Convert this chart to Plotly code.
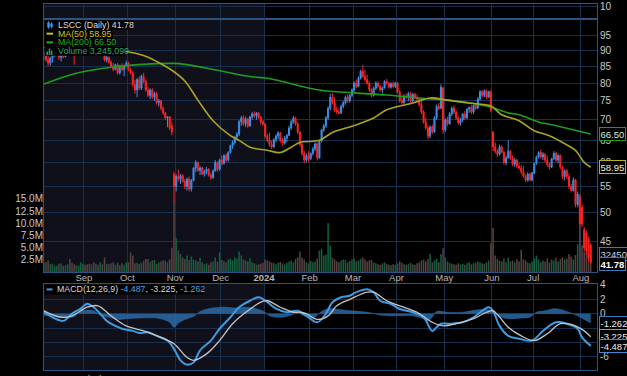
import pandas as pd
import plotly.graph_objects as go

# ---------------- data ----------------
holidays = ["2023-09-04", "2023-11-23", "2023-12-25", "2024-01-01", "2024-01-15",
            "2024-02-19", "2024-03-29", "2024-05-27", "2024-06-19", "2024-07-04"]

open_ = [
88.5, 89.5, 87, 86, 87.5, 88.5, 90.5, 91.5, 87.8, 89,
88, 90.5, 92, 91, 90, 88.6, 90.5, 92, 93.5, 94.5,
93.5, 91.5, 90, 91, 90, 91.5, 89.5, 90.5, 89, 87,
87.8, 86.2, 85, 84, 85.5, 83, 85, 84, 85.2, 86,
84, 83, 79.5, 78, 81, 78.5, 82, 80.5, 78, 76.5,
78, 76, 77, 74.5, 75, 73, 71.8, 70.5, 70.8, 68.5,
57.5, 55, 57, 56.5, 57.2, 56, 55, 56.5, 54.5, 56.2,
58.8, 60, 58.3, 58.8, 57.5, 58, 58.5, 57.3, 56.8, 58.2,
60, 58.5, 60.5, 59.8, 61.5, 60.5, 62.2, 63.8, 64.5, 65.8,
66.5, 69.5, 70.5, 69, 70.2, 68.5, 70.8, 71.5, 71, 71.8,
70.6, 69.5, 69, 66, 65, 64, 63.5, 65.2, 66, 66.8,
65, 64.3, 65.5, 66.2, 68, 69.5, 70.5, 69, 67, 64,
62, 60.5, 61.5, 60.8, 62, 63, 64.2, 61, 64.8, 67.5,
68.5, 70.5, 73, 76, 74.5, 72.5, 72, 71.8, 73.5, 74.5,
76, 75, 76.5, 78, 80, 79, 81.5, 83.5, 82, 81,
80, 78, 76.5, 78.5, 80, 79, 78, 78.6, 80.5, 80,
78.8, 79.8, 79, 80, 77.5, 75, 74.5, 76.3, 76, 77,
75, 76.8, 76, 75.5, 74, 72, 69.5, 68, 66, 68.2,
67, 70.5, 73.5, 73, 78.5, 67.5, 70, 69, 71.5, 73,
72, 70.5, 69.2, 70, 71.5, 70.5, 72.8, 73.2, 72, 73.8,
73, 75.5, 77.5, 76.5, 77.8, 76, 77.5, 67, 63.5, 62.5,
61.8, 63.5, 62.3, 60, 61, 62.5, 61, 59.6, 60.5, 59.2,
58.8, 58, 57, 56.3, 57.5, 56.3, 57.8, 59.8, 61.2, 62.2,
61.2, 61.8, 60.5, 59.5, 59, 60.8, 62, 60.5, 61.5, 59,
57, 58.2, 57, 55, 54.2, 56.3, 51.5, 53, 51, 47,
46.5, 45.5, 44.5]

high = [
90, 90.5, 88.5, 88, 89, 91, 92, 92, 89.5, 90.5,
91, 92.5, 93, 91.5, 90.5, 91, 92.5, 94, 95, 96,
94, 92.5, 91.5, 92, 92, 92, 91, 91, 89.2, 88.5,
88, 87, 86, 85.8, 86, 85.5, 86, 85.5, 86.8, 86.5,
84.5, 83.5, 81, 81.5, 82, 82.5, 83, 81, 79, 78.5,
78.5, 77.5, 77.5, 75.5, 75.2, 73.5, 72, 71, 71, 69.5,
58, 57.5, 58.5, 57.5, 57.5, 56.5, 56.8, 57, 56.5, 59,
60.5, 60.2, 59.2, 59, 58.5, 59, 58.8, 57.8, 58.5, 60.5,
60.2, 60.8, 61.5, 61.8, 62, 62.5, 64, 65, 66, 67,
70, 71, 71.2, 70.8, 70.5, 71, 72, 72.2, 72, 72,
71, 70, 69.2, 66.5, 66.8, 65, 65.5, 66.5, 67.2, 67,
65.5, 66, 66.5, 68.5, 70, 71, 70.8, 69.5, 67.2, 64.5,
62.5, 62, 62.5, 62.2, 63.5, 64.5, 64.5, 65, 67.8, 69,
71, 73.5, 77, 77.2, 76, 73.5, 73, 74, 75, 76.5,
76.8, 77, 78.5, 80.5, 81, 82, 84, 85.5, 84, 82.5,
80.5, 78.5, 79, 80.5, 80.5, 79.5, 79, 80.8, 81.2, 80.3,
80.2, 80.5, 80.3, 80.2, 78, 76.5, 76.8, 77, 77.5, 77.5,
77.2, 77.2, 76.8, 76, 75.8, 72.5, 70.6, 68.5, 68.6, 68.8,
71, 74, 74.5, 79.6, 79, 70.5, 70.8, 72, 73.5, 73.8,
72.5, 71, 70.5, 71.8, 72.3, 73, 73.5, 74, 74, 74.2,
76, 78, 78, 78.2, 78.2, 77.8, 78, 67.2, 64.5, 63,
64, 63.8, 62.5, 61.5, 65, 62.8, 61.5, 61, 60.8, 60,
59.5, 59.2, 57.5, 57.9, 57.8, 58, 60, 61.5, 62.5, 62.8,
62.3, 62, 61.5, 60, 61, 62.5, 62.3, 62, 61.8, 59.2,
58.5, 58.6, 57.7, 55.5, 56.8, 56.5, 54, 53.5, 51.5, 47.5,
46.9, 45.8, 44.8]

low = [
87, 86.5, 85, 85.2, 86.2, 88, 89.5, 87, 86.5, 87.5,
87.8, 90, 90.5, 88.5, 85.5, 88.5, 90, 91.5, 92.5, 93,
91, 89.5, 89, 89.5, 89.8, 89, 89, 88.6, 86.5, 86.2,
85.8, 84.5, 83.5, 83.8, 82.5, 82.5, 83.5, 82, 84.8, 83.5,
82.5, 79, 77, 76, 78, 78, 80, 77.5, 76, 75.5,
75.5, 75, 74, 73.5, 72.5, 71.3, 70, 68.2, 67.5, 66.2,
52, 54, 56, 55.5, 55.8, 54.5, 54.2, 54, 54, 56,
58, 58, 57.3, 57.3, 57, 57.5, 57, 56.3, 56.5, 58,
58, 58.2, 59.3, 59.5, 60, 60.2, 62, 63, 64, 65,
66, 68.5, 68.5, 68.2, 68, 68.3, 70, 70.5, 70, 70.3,
68.8, 68.5, 65.5, 64.5, 63.5, 63, 63.2, 64.5, 65.3, 64.5,
63.8, 64, 64.5, 66, 67.5, 69, 68.5, 66.5, 63.5, 61.5,
59.8, 60, 60.2, 60.5, 61.5, 62.5, 60.4, 60.8, 64.5, 67,
68, 70, 72.5, 74, 72, 71.5, 71.3, 71.5, 73, 74,
74.5, 74.5, 76, 77.5, 78.5, 78.8, 81, 81.5, 80.5, 79.5,
77.5, 76, 76.2, 78, 78.5, 77.5, 77, 78.4, 79.5, 78.5,
78.4, 78.5, 78.6, 77, 74.5, 74, 74.2, 75.5, 75, 74.5,
74.6, 75.5, 75, 73.5, 71.5, 69, 67.5, 65.3, 65.5, 66.5,
66.8, 70, 72.5, 72.8, 66.5, 67, 68.5, 68.8, 71, 71.5,
70, 68.8, 68.6, 69.5, 70, 70.2, 71.8, 71.5, 71.5, 72.5,
72.8, 75, 76, 76, 75.5, 75.8, 72, 62.5, 62, 61.2,
61.5, 62, 59.5, 59.4, 60.8, 60.5, 59.2, 59, 58.8, 58.5,
57.5, 56.8, 55.9, 55.9, 56, 56, 57.5, 59.5, 60.8, 60.8,
60.5, 60, 59, 58.5, 58.8, 60.5, 60, 59.8, 58.5, 56.5,
56.2, 56.5, 54.5, 53.8, 54, 51, 51, 47, 47.5, 43.5,
43, 42, 41.5]

close = [
89.5, 87, 86, 87.5, 88.5, 90.5, 91.5, 87.8, 89, 88,
90.5, 92, 91, 90, 88.6, 90.5, 92, 93.5, 94, 93.5,
91.5, 90, 91, 90, 91.5, 89.5, 90.5, 89, 87, 87.8,
86.2, 85, 84, 85.5, 83, 85, 84, 85.2, 86, 84,
83, 79.5, 78, 81, 78.5, 82, 80.5, 78, 76.5, 78,
76, 77, 74.5, 75, 73, 71.8, 70.5, 70.8, 68, 67,
55, 57, 56.5, 57.2, 56, 55, 56.5, 54.5, 56.2, 58.8,
60, 58.3, 58.8, 57.5, 58, 58.5, 57.3, 56.8, 58.2, 60,
58.5, 60.5, 59.8, 61.5, 60.5, 62.2, 63.8, 64.5, 65.8, 66.5,
69.5, 70.5, 69, 70.2, 68.5, 70.8, 71.5, 71, 71.8, 70.6,
69.5, 69, 66, 65, 64, 63.5, 65.2, 66, 66.8, 65,
64.3, 65.5, 66.2, 68, 69.5, 70.5, 69, 67, 64, 62,
60.5, 61.5, 60.8, 62, 63, 64.2, 61, 64.8, 67.5, 68.5,
70.5, 73, 76, 74.5, 72.5, 72, 71.8, 73.5, 74.5, 76,
75, 76.5, 78, 80, 79, 81.5, 83.5, 82, 81, 80,
78, 76.5, 78.5, 80, 79, 78, 78.6, 80.5, 80, 78.8,
79.8, 79, 80, 77.5, 75, 74.5, 76.3, 76, 77, 75,
76.8, 76, 75.5, 74, 72, 69.5, 68, 66, 68.2, 67,
70.5, 73.5, 73, 78.8, 67.5, 70, 69, 71.5, 73, 72,
70.5, 69.2, 70, 71.5, 70.5, 72.8, 73.2, 72, 73.8, 73,
75.5, 77.5, 76.5, 77.8, 76, 77.5, 72.5, 63.5, 62.5, 61.8,
63.5, 62.3, 60, 61, 62.5, 61, 59.6, 60.5, 59.2, 58.8,
58, 57, 56.3, 57.5, 56.3, 57.8, 59.8, 61.2, 62.2, 61.2,
61.8, 60.5, 59.5, 59, 60.8, 62, 60.5, 61.5, 59, 57,
58.2, 57, 55, 54.2, 56.3, 51.5, 53.5, 48, 48, 44,
43.5, 42.5, 41.78]

volume_m = [
1.9, 2.0, 2.4, 1.6, 1.7, 1.2, 1.3, 1.7, 1.8, 1.3,
1.4, 1.6, 2.7, 1.9, 1.6, 1.4, 1.3, 2.0, 1.7, 1.5,
1.6, 1.7, 1.6, 2.0, 1.7, 1.5, 2.0, 1.6, 3.0, 1.7,
1.6, 1.8, 2.0, 1.5, 1.9, 1.4, 1.8, 1.5, 2.0, 2.0,
4.0, 3.4, 1.8, 1.9, 1.7, 1.9, 2.3, 2.7, 2.7, 2.0,
2.4, 2.5, 1.7, 2.0, 2.2, 2.4, 2.3, 2.0, 2.6, 5.0,
14.5, 7.0, 4.4, 3.7, 3.0, 2.7, 3.4, 2.5, 3.2, 2.6,
2.4, 2.2, 2.9, 2.0, 1.6, 1.8, 1.5, 2.0, 2.2, 3.0,
2.1, 4.0, 2.5, 2.3, 2.0, 2.6, 2.8, 2.4, 3.0, 2.8,
4.2, 3.4, 2.6, 2.4, 2.2, 2.9, 2.0, 1.8, 1.5, 1.6,
1.7, 1.9, 2.6, 2.4, 2.2, 2.0, 1.8, 1.6, 1.9, 2.1,
1.8, 1.6, 1.9, 2.2, 2.4, 2.0, 2.7, 3.0, 4.2, 3.0,
2.6, 2.0, 1.8, 2.3, 2.0, 2.2, 2.8, 4.4, 4.8, 3.4,
3.6, 10.0, 5.4, 3.0, 2.6, 2.2, 2.0, 2.4, 2.6, 2.5,
2.0, 2.3, 2.6, 2.8, 2.2, 2.4, 2.7, 3.0, 2.6, 2.2,
2.4, 2.5, 2.0, 1.8, 1.6, 1.5, 1.8, 2.0, 1.7, 1.5,
1.4, 1.6, 1.5, 1.8, 2.2, 1.9, 1.6, 1.5, 1.7, 1.9,
1.6, 1.5, 1.8, 2.0, 2.4, 2.6, 2.2, 2.7, 3.7, 2.0,
2.4, 2.7, 2.0, 3.7, 4.9, 3.0, 2.2, 1.9, 1.7, 1.6,
1.5, 1.8, 1.6, 1.7, 1.5, 1.8, 2.0, 1.6, 1.8, 1.9,
2.2, 2.0, 1.8, 1.7, 2.0, 2.4, 5.9, 9.1, 3.4, 2.7,
2.4, 2.2, 2.8, 2.0, 3.0, 2.2, 2.4, 2.0, 2.6, 2.2,
4.6, 2.6, 2.4, 2.0, 1.8, 2.2, 2.8, 3.4, 2.6, 2.0,
2.4, 2.2, 2.8, 2.0, 2.6, 2.4, 2.9, 2.2, 2.7, 3.0,
2.6, 2.8, 3.7, 3.2, 2.6, 3.5, 5.7, 8.7, 5.5, 4.2,
4.0, 3.4, 3.24509]

# moving averages (session number, value)
ma50_idx = [0, 19, 38, 46, 52, 59, 65, 71, 78, 86, 90, 95, 103, 109, 114, 118, 127, 133, 143, 152,
            158, 170, 178, 186, 196, 206, 211, 219, 226, 233, 239, 245, 249, 252]
ma50_val = [91.0, 90.6, 89.7, 88.4, 86.5, 83.8, 80.6, 75.2, 69.8, 66.1, 65.0, 63.4, 62.7, 62.2, 63.4,
            64.5, 65.0, 66.9, 68.6, 70.5, 72.6, 74.4, 75.8, 75.2, 74.4, 73.6, 71.3, 69.8, 67.3, 66.1,
            64.5, 62.7, 60.0, 58.95]
ma200_idx = [0, 15, 31, 46, 60, 65, 80, 94, 103, 109, 127, 143, 158, 173, 189, 204, 214, 219, 229, 234, 252]
ma200_val = [79.7, 82.9, 84.7, 85.6, 85.9, 85.6, 83.8, 82.0, 81.4, 80.6, 78.0, 77.2, 76.6, 75.8, 75.0,
             73.6, 71.8, 71.3, 69.3, 68.8, 66.5]

# MACD(12,26,9)
macd_idx = [0, 4, 9, 13, 17, 20, 23, 26, 29, 33, 36, 41, 44, 48, 52, 57, 60, 63, 66, 69,
            72, 77, 81, 86, 90, 95, 99, 103, 107, 112, 117, 121, 126, 130, 133, 137, 141, 144, 149, 152,
            155, 160, 164, 170, 175, 179, 181, 183, 187, 193, 198, 202, 205, 207, 210, 214, 219, 225, 230, 236,
            241, 246, 248, 252]
macd_val = [0.2, -0.5, -1.0, 0.0, 0.7, 1.4, 0.9, 0.0, -1.0, -1.7, -2.1, -2.4, -2.7, -2.6, -3.1, -3.75, -4.9,
            -6.5, -7.1, -6.8, -5.1, -3.75, -2.1, -0.5, 0.9, 1.8, 2.3, 1.6, 0.7, 0.2, 0.4, -0.3, -1.2, 0.0,
            1.6, 2.3, 2.5, 3.0, 3.4, 3.0, 1.8, 1.35, 0.65, 0.2, -0.5, -2.4, -1.9, -1.4, -1.4, -1.2, -0.5,
            0.4, 0.9, 0.4, -1.7, -3.1, -3.5, -3.75, -2.4, -1.2, -1.4, -2.1, -3.3, -4.487]
sig_idx = [0, 8, 13, 20, 25, 31, 38, 46, 54, 60, 66, 69, 75, 81, 87, 94, 100, 103, 109, 115,
           118, 121, 126, 131, 135, 141, 149, 152, 158, 164, 172, 179, 184, 190, 198, 204, 207, 214, 220, 226,
           232, 238, 243, 249, 252]
sig_val = [0.4, -0.5, -0.3, 0.9, 1.1, -0.3, -1.7, -2.4, -3.3, -4.2, -6.1, -6.5, -5.6, -3.75, -1.4, 0.4,
           1.6, 1.8, 0.9, 0.2, 0.2, 0.0, -0.8, -0.3, 1.1, 2.0, 3.0, 3.0, 1.8, 1.1, 0.2, -1.2, -1.7, -1.4,
           -0.7, 0.2, 0.4, -1.9, -3.1, -3.75, -2.8, -1.4, -1.5, -2.4, -3.225]
hist_idx = [0, 5, 10, 14, 17, 20, 23, 26, 30, 34, 38, 45, 52, 56, 58, 60, 62, 65, 69, 72,
            76, 82, 88, 94, 99, 102, 104, 110, 114, 117, 120, 124, 128, 131, 136, 141, 146, 151, 155, 162,
            170, 174, 177, 179, 181, 186, 193, 199, 204, 207, 210, 214, 220, 224, 227, 231, 235, 238, 242, 246,
            249, 252]
hist_val = [-0.2, -0.3, -0.6, -0.4, 0.3, 0.5, 0.4, -0.2, -0.5, -0.8, -0.7, -0.6, -0.6, -0.9, -1.2, -1.9,
            -1.3, -0.8, -0.4, 0.3, 0.7, 0.9, 0.8, 0.9, 0.6, 0.2, -0.3, -0.5, -0.2, 0.1, -0.3, -0.6, 0.3,
            0.7, 0.6, 0.4, 0.3, 0.1, -0.2, -0.3, -0.3, -0.6, -1.0, -0.5, 0.3, 0.2, 0.2, 0.5, 0.6, 0.3,
            -0.4, -0.7, -0.6, -0.5, 0.2, 0.4, 0.7, 0.6, 0.2, -0.3, -0.8, -1.262]

price_ticks = [45, 50, 55, 60, 65, 70, 75, 80, 85, 90, 95]
vol_ticks_m = [2.5, 5.0, 7.5, 10.0, 12.5, 15.0]
macd_ticks = [-6, -4, -2, 0, 2, 4]

# ---------------- build ----------------
N = len(close)
dates = pd.bdate_range("2023-08-07", "2024-08-20", freq="C", holidays=holidays)[:N]
idx = list(range(N))

month_pos, month_txt = [], []
for i in range(1, N):
    if dates[i].month != dates[i - 1].month:
        month_pos.append(i - 0.5)
        month_txt.append("<b>2024</b>" if dates[i].month == 1 else dates[i].strftime("%b"))
jan_pos = [p for p, t in zip(month_pos, month_txt) if "2024" in t][0]

W, H = 627, 376
ML, MR = 44, 30
def px(x):
    return (x - ML) / (W - ML - MR)
def py(y):
    return 1 - y / H

GRID = "#16304e"
BORDER = "#2a5583"
UP, DOWN = "#3b8fe6", "#ff2222"
XR = [0.1, 254.9]
FONT = "Liberation Sans"

vol_colors = ["#125e3e" if c >= o else "#574040" for o, c in zip(open_, close)]

fig = go.Figure()
fig.add_trace(go.Bar(x=idx, y=[v * 1e6 for v in volume_m], marker=dict(color=vol_colors, line_width=0),
                     width=0.72, xaxis="x", yaxis="y", hoverinfo="skip"))
fig.add_trace(go.Candlestick(x=idx, open=open_, high=high, low=low, close=close,
                             increasing=dict(line=dict(color=UP, width=1), fillcolor=UP),
                             decreasing=dict(line=dict(color=DOWN, width=1), fillcolor=DOWN),
                             whiskerwidth=0, xaxis="x", yaxis="y2", hoverinfo="skip"))
fig.add_trace(go.Scatter(x=ma200_idx, y=ma200_val, mode="lines", line=dict(color="#1f9c1f", width=1.6, shape="spline"),
                         xaxis="x", yaxis="y2", hoverinfo="skip"))
fig.add_trace(go.Scatter(x=ma50_idx, y=ma50_val, mode="lines", line=dict(color="#aaa322", width=1.6, shape="spline"),
                         xaxis="x", yaxis="y2", hoverinfo="skip"))
fig.add_trace(go.Scatter(x=hist_idx, y=hist_val, mode="lines", fill="tozeroy",
                         line=dict(color="#2c6fae", width=0.5, shape="spline"),
                         fillcolor="rgba(44,111,174,0.8)", xaxis="x2", yaxis="y3", hoverinfo="skip"))
fig.add_trace(go.Scatter(x=macd_idx, y=macd_val, mode="lines", line=dict(color="#3d9be2", width=2, shape="spline"),
                         xaxis="x2", yaxis="y3", hoverinfo="skip"))
fig.add_trace(go.Scatter(x=sig_idx, y=sig_val, mode="lines", line=dict(color="#c4c4c4", width=1.3, shape="spline"),
                         xaxis="x2", yaxis="y3", hoverinfo="skip"))
fig.add_trace(go.Scatter(x=[10], y=[0.5], mode="markers", marker=dict(opacity=0),
                         xaxis="x3", yaxis="y4", hoverinfo="skip"))

xcommon = dict(range=XR, tickvals=month_pos, showgrid=True, gridcolor=GRID, gridwidth=1,
               zeroline=False, showline=True, linecolor=BORDER, mirror=True, ticks="")
fig.update_layout(
    width=W, height=H, margin=dict(l=ML, r=MR, t=0, b=0), autosize=False,
    paper_bgcolor="black", plot_bgcolor="black", showlegend=False, hovermode=False,
    font=dict(family=FONT, color="#c8c8c8"),
    xaxis=dict(domain=[0, 1], anchor="y", ticktext=month_txt, showticklabels=True, ticklabelstandoff=-4,
               tickfont=dict(size=9.5, color="#b8b8b8"), rangeslider=dict(visible=False), **xcommon),
    xaxis2=dict(domain=[0, 1], anchor="y3", showticklabels=False, **xcommon),
    xaxis3=dict(domain=[0, 1], anchor="y4", showticklabels=False, **xcommon),
    yaxis=dict(domain=[py(271), py(15)], anchor="x", side="left", range=[0, 51.9e6],
               tickvals=[v * 1e6 for v in vol_ticks_m], ticktext=["%.1fM" % v for v in vol_ticks_m],
               showgrid=False, zeroline=False, ticks="", tickfont=dict(size=10, color="#c8c8c8")),
    yaxis2=dict(domain=[py(271), py(15)], anchor="x", overlaying="y", side="right", type="log",
                range=[1.60552, 2.00415], tickvals=price_ticks, ticktext=[str(t) for t in price_ticks],
                showgrid=True, gridcolor=GRID, zeroline=False, showline=True, linecolor=BORDER, mirror=True,
                ticks="", tickfont=dict(size=10, color="#c8c8c8")),
    yaxis3=dict(domain=[py(370), py(283)], anchor="x2", side="right", range=[-7.86, 4.14],
                tickvals=macd_ticks, ticktext=[str(t) for t in macd_ticks], showgrid=True, gridcolor=GRID,
                zeroline=False, showline=True, linecolor=BORDER, mirror=True, ticks="",
                tickfont=dict(size=10, color="#c8c8c8")),
    yaxis4=dict(domain=[py(15), 1], anchor="x3", side="right", range=[0, 1], tickvals=[0.85], ticktext=["10"],
                showgrid=True, gridcolor=GRID, zeroline=False, showline=True, linecolor=BORDER, mirror=True,
                ticks="", tickfont=dict(size=10, color="#c8c8c8")),
)

shapes = [
    dict(type="rect", xref="x", yref="paper", x0=XR[0], x1=jan_pos, y0=py(271), y1=1,
         fillcolor="#10101b", line_width=0, layer="below"),
    dict(type="rect", xref="x", yref="paper", x0=XR[0], x1=jan_pos, y0=py(370), y1=py(283),
         fillcolor="#10101b", line_width=0, layer="below"),
]
# legend boxes
for (y0, y1, xe) in [(16.5, 25.8, 131.5), (25.8, 34.4, 113), (34.4, 43.2, 113), (43.2, 52.2, 125.5),
                     (283.5, 293.5, 203.5), (371.5, 376, 135)]:
    shapes.append(dict(type="rect", xref="paper", yref="paper", x0=px(44.5), x1=px(xe), y0=py(y1), y1=py(y0),
                       fillcolor="black", line_width=0, layer="above"))
# legend icons
shapes += [
    dict(type="line", xref="paper", yref="paper", x0=px(48.5), x1=px(48.5), y0=py(25), y1=py(17.5),
         line=dict(color=UP, width=1), layer="above"),
    dict(type="rect", xref="paper", yref="paper", x0=px(47.5), x1=px(49.6), y0=py(23.5), y1=py(19),
         fillcolor=UP, line=dict(color=UP, width=0.5), layer="above"),
    dict(type="line", xref="paper", yref="paper", x0=px(51.5), x1=px(51.5), y0=py(24.5), y1=py(18.5),
         line=dict(color=UP, width=1), layer="above"),
    dict(type="rect", xref="paper", yref="paper", x0=px(50.6), x1=px(52.6), y0=py(23), y1=py(20),
         fillcolor=UP, line=dict(color=UP, width=0.5), layer="above"),
    dict(type="line", xref="paper", yref="paper", x0=px(46.5), x1=px(53), y0=py(30), y1=py(30),
         line=dict(color="#c9c21f", width=2), layer="above"),
    dict(type="line", xref="paper", yref="paper", x0=px(46.5), x1=px(53), y0=py(38.8), y1=py(38.8),
         line=dict(color="#1fb01f", width=2), layer="above"),
    dict(type="line", xref="paper", yref="paper", x0=px(46.5), x1=px(52.5), y0=py(288.5), y1=py(288.5),
         line=dict(color="#3d9be2", width=2), layer="above"),
]
for (xa, xb, ytop) in [(46.5, 48, 48), (48.7, 50.2, 45), (50.9, 52.4, 47)]:
    shapes.append(dict(type="rect", xref="paper", yref="paper", x0=px(xa), x1=px(xb), y0=py(51.5), y1=py(ytop),
                       fillcolor="#2ea66a", line_width=0, layer="above"))
fig.update_layout(shapes=shapes)

LF = 8.8
ann = [
    dict(text="LSCC (Daily) 41.78", x=px(55.5), y=py(21.2), color="#dcdcdc"),
    dict(text="MA(50) 58.95", x=px(55.5), y=py(30.1), color="#cdc51f"),
    dict(text="MA(200) 66.50", x=px(55.5), y=py(38.8), color="#22b322"),
    dict(text="Volume 3,245,090", x=px(55.5), y=py(47.7), color="#2fa868"),
    dict(text='MACD(12,26,9) <span style="color:#4aa6ee">-4.487</span>, <span style="color:#d8d8d8">-3.225</span>, '
              '<span style="color:#4aa6ee">-1.262</span>', x=px(55), y=py(288.5), color="#d8d8d8"),
]
annotations = []
for a in ann:
    annotations.append(dict(text=a["text"], x=a["x"], y=a["y"], xref="paper", yref="paper", xanchor="left",
                            yanchor="middle", showarrow=False, font=dict(size=LF, color=a["color"], family=FONT)))
annotations.append(dict(text='Wm%R(14) <span style="color:#4aa6ee">-90.36</span>', x=px(55), y=py(371.5),
                        xref="paper", yref="paper", xanchor="left", yanchor="top", showarrow=False,
                        font=dict(size=LF, color="#d8d8d8", family=FONT)))

tags = [
    ("66.50", 131, "#1c9c1c", "#d6ecd6", False),
    ("58.95", 164.8, "#b9b11f", "#f2f0c8", False),
    ("3245090", 252.5, "#3a7abb", "#c6d6ee", False),
    ("41.78", 262.5, "#3a7abb", "#ffffff", True),
    ("-1.262", 322.5, "#3a7abb", "#e8e8e8", False),
    ("-3.225", 336, "#9a9a9a", "#f0f0f0", False),
    ("-4.487", 345.8, "#3d8ad6", "#e8e8e8", False),
]
for t, yv, bc, fc, bold in tags:
    annotations.append(dict(text=("<b>%s</b>" % t) if bold else t, x=px(598.5), y=py(yv), xref="paper",
                            yref="paper", xanchor="left", yanchor="middle", showarrow=False,
                            bgcolor="black", bordercolor=bc, borderwidth=1, borderpad=0.5,
                            font=dict(size=9.5, color=fc, family=FONT)))
fig.update_layout(annotations=annotations)

fig.write_html("out.html", config={"displayModeBar": False, "staticPlot": True},
               post_script="document.body.style.margin='0';document.body.style.overflow='hidden';"
                           "document.body.style.background='black';")
